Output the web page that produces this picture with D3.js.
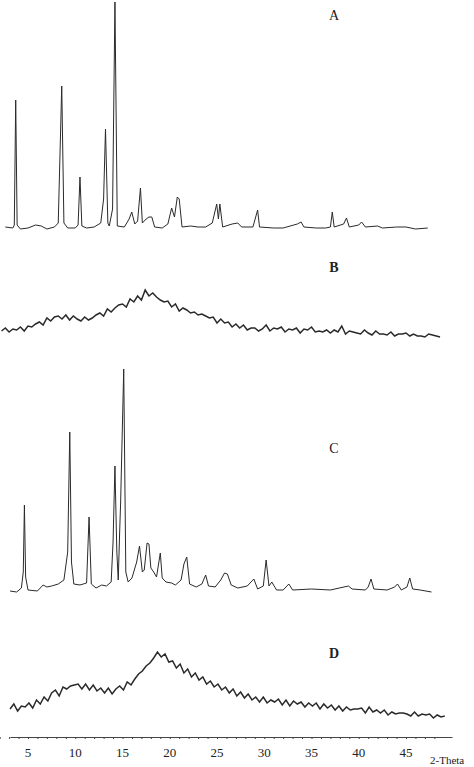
<!DOCTYPE html>
<html>
<head>
<meta charset="utf-8">
<script src="https://cdn.jsdelivr.net/npm/d3@7"></script>
<style>
  body { margin: 0; background: #fff; }
  text { font-family: "Liberation Serif", "DejaVu Serif", serif; fill: #222; }
</style>
</head>
<body>
<script>
const width = 474;
const height = 767;

// 2-Theta tick labels
const tickLabels = [5, 10, 15, 20, 25, 30, 35, 40, 45];

// trace A: crystalline, [2theta, intensity]
const traceA = [
  [2.6,2],[3.4,1],[3.55,4],[3.7,129],[3.85,4],[4.2,0],[5,1],[5.8,4],[6.4,3],[7,0],[7.8,2],[8.2,6],
  [8.57,143],[8.8,6],[9.2,1],[10.0,1],[10.3,4],[10.5,52],[10.7,3],[11.2,1],[12,2],[12.7,6],[13.0,30],
  [13.2,100],[13.45,6],[13.6,3],[13.95,20],[14.2,227],[14.45,3],[15.2,2],[15.7,10],[15.98,17],[16.3,5],
  [16.6,8],[16.9,41],[17.1,6],[17.5,10],[17.8,12],[18.1,12],[18.4,2],[19.2,1],[19.8,5],[20.2,21],
  [20.5,12],[20.8,32],[21.0,30],[21.3,2],[22.2,3],[23,2],[23.8,2],[24.5,6],[24.97,25],[25.15,10],
  [25.3,25],[25.6,2],[26.6,5],[27.2,6],[27.6,2],[28.8,2],[29.3,19],[29.5,2],[31,1],[32,1],[33.5,5],
  [33.9,7],[34.2,2],[35.5,1],[36.5,1],[37.0,2],[37.2,17],[37.4,2],[38.4,5],[38.7,11],[39,2],[40.0,4],
  [40.3,7],[40.7,2],[42,3],[42.5,1],[44,2],[45,2],[46,0],[47.3,1]
];

// trace B: amorphous, intensities on a 0.4 deg grid from 2.2
const bStart = 2.2;
const bValues = [
  9,12,8,11,10,13,9,14,13,16,
  18,15,22,19,23,24,21,25,20,24,21,
  19,23,20,22,25,27,24,31,28,32,35,
  36,33,41,38,44,40,50,44,47,43,40,
  38,39,33,36,29,32,30,27,28,25,26,
  24,22,23,17,21,17,18,13,16,12,15,
  10,12,12,9,11,15,9,12,11,13,8,
  11,10,12,7,11,10,13,8,9,8,10,
  7,10,8,14,6,9,8,7,6,10,7,
  5,9,6,6,5,8,4,6,6,7,4,
  6,4,4,3,6,5,4,3
];

// trace C: crystalline, [2theta, intensity]
const traceC = [
  [3.1,1],[3.8,0],[4.3,4],[4.5,20],[4.62,87],[4.75,15],[5.0,2],[6.0,1],[6.6,7],[7.0,5],[7.5,6],[8.2,8],
  [8.8,12],[9.2,40],[9.42,160],[9.6,30],[9.85,8],[10.5,7],[11.2,9],[11.46,75],[11.7,8],[12.2,4],[12.8,7],
  [13.3,6],[13.8,10],[14.0,50],[14.2,126],[14.4,40],[14.55,12],[14.7,60],[14.8,89],[15.13,223],[15.35,20],
  [15.6,10],[16.0,14],[16.5,30],[16.8,46],[17.1,20],[17.3,22],[17.6,49],[17.8,48],[18.0,24],[18.3,20],
  [18.6,15],[19.0,39],[19.2,14],[19.6,10],[20.2,9],[20.6,7],[21.2,12],[21.5,28],[21.8,35],[22.1,8],
  [22.8,5],[23.4,8],[23.8,17],[24.1,6],[24.8,5],[25.4,12],[25.8,19],[26.1,18],[26.5,7],[27.2,4],[28.2,6],
  [28.9,13],[29.3,3],[29.9,6],[30.2,32],[30.5,6],[30.8,10],[31.3,2],[32.0,2],[32.6,8],[33,2],[35,3],[37,2],
  [38.9,6],[39.3,3],[40.7,2],[41.0,5],[41.3,13],[41.6,3],[43,2],[43.8,5],[44.1,8],[44.5,2],[45.1,5],
  [45.4,14],[45.7,3],[46.5,2],[47.7,0]
];

// trace D: amorphous, intensities on a 0.4 deg grid from 3.1
const dStart = 3.1;
const dValues = [
  16,21,14,19,18,22,17,25,21,28,24,
  32,35,29,38,36,39,40,41,36,41,35,
  40,34,37,32,37,31,36,39,35,43,40,
  46,51,54,59,62,67,73,68,71,63,64,
  57,61,52,56,48,52,45,48,41,44,38,
  41,35,38,32,36,29,33,27,31,25,28,
  23,28,22,25,23,26,20,25,19,24,21,
  23,18,22,19,22,16,21,17,20,15,19,
  14,18,15,16,16,17,12,18,13,15,12,
  15,10,13,11,12,12,11,9,13,9,11,
  10,11,7,10,8,9
];
const gridStep = 0.4;

const labels = ["A", "B", "C", "D"];
const offsets = [511, 400, 148, 15]; // stacking offset of each trace

const toPoints = (start, vals) => vals.map((v, i) => [start + i * gridStep, v]);
const traces = [traceA, toPoints(bStart, bValues), traceC, toPoints(dStart, dValues)];

const x = d3.scaleLinear().domain([5, 45]).range([28, 406]);
const y = d3.scaleLinear().domain([0, 740]).range([740, 0]);

const svg = d3.select("body").append("svg")
  .attr("width", width)
  .attr("height", height);

traces.forEach((tr, i) => {
  const line = d3.line()
    .x(d => x(d[0]))
    .y(d => y(d[1] + offsets[i]));
  svg.append("path")
    .datum(tr)
    .attr("d", line)
    .attr("fill", "none")
    .attr("stroke", "#2a2a2a")
    .attr("stroke-width", i % 2 ? 1.5 : 1);
});

const labelY = [20, 272, 453, 658];
svg.selectAll(".lab")
  .data(labels)
  .enter().append("text")
  .attr("class", "lab")
  .attr("x", 334)
  .attr("y", (d, i) => labelY[i])
  .attr("text-anchor", "middle")
  .attr("font-size", 14)
  .attr("font-weight", (d, i) => i % 2 ? "bold" : "normal")
  .text(d => d);

// axis
const xAxisScale = x.copy().domain([x.invert(10), x.invert(452)]).range([10, 452]);
const axis = svg.append("g")
  .attr("transform", "translate(0,737)")
  .call(d3.axisBottom(xAxisScale).tickValues(d3.range(2, 49)).tickSize(2).tickSizeOuter(0).tickFormat(""));
axis.selectAll("path,line").attr("stroke", "#444");

svg.selectAll(".tick-lab")
  .data(tickLabels)
  .enter().append("text")
  .attr("x", d => x(d))
  .attr("y", 757)
  .attr("text-anchor", "middle")
  .attr("font-size", 13)
  .text(d => d);

svg.append("text")
  .attr("x", 430)
  .attr("y", 764)
  .attr("font-size", 11)
  .text("2-Theta");
</script>
</body>
</html>
